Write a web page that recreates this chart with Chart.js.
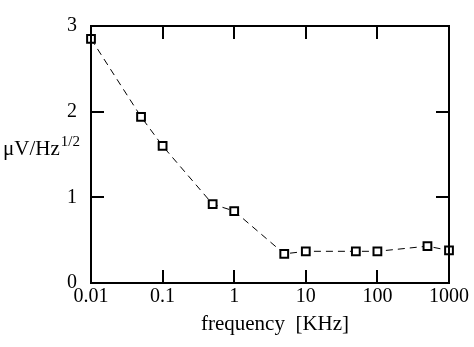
<!DOCTYPE html>
<html>
<head>
<meta charset="utf-8">
<script src="https://cdn.jsdelivr.net/npm/chart.js@4.4.1/dist/chart.umd.min.js"></script>
<style>
  body { margin: 0; background: #fff; }
  #wrap { width: 474px; height: 347px; }
</style>
</head>
<body>
<div id="wrap"><canvas id="noiseChart" width="474" height="347"></canvas></div>
<script>
// noise density vs frequency
const freqs = [0.01, 0.05, 0.1, 0.5, 1, 5, 10, 50, 100, 500, 1000];
const noise = [2.85, 1.94, 1.60, 0.92, 0.84, 0.34, 0.37, 0.37, 0.37, 0.43, 0.38];
const xTicks = [0.01, 0.1, 1, 10, 100, 1000];
const xTickLabels = ['0.01', '0.1', '1', '10', '100', '1000'];
const yTicks = [0, 1, 2, 3];

const serif = '"Liberation Serif", "DejaVu Serif", serif';

// white background
const bgPlugin = {
    id: 'bg',
    beforeDraw(chart) {
        const ctx = chart.ctx;
        ctx.save();
        ctx.fillStyle = '#fff';
        ctx.fillRect(0, 0, chart.width, chart.height);
        ctx.restore();
    }
};

// boxed frame with inward ticks on all four sides, plus axis titles
const framePlugin = {
    id: 'frame',
    afterDatasetsDraw(chart) {
        const ctx = chart.ctx;
        const a = chart.chartArea;
        const xs = chart.scales.x;
        const ys = chart.scales.y;
        const len = 13;
        ctx.save();
        ctx.strokeStyle = '#000';
        ctx.lineWidth = 2;
        ctx.strokeRect(a.left, a.top, a.right - a.left, a.bottom - a.top);

        ctx.beginPath();
        xTicks.slice(1, -1).forEach(v => {
            const px = Math.round(xs.getPixelForValue(v));
            ctx.moveTo(px, a.bottom);
            ctx.lineTo(px, a.bottom - len);
            ctx.moveTo(px, a.top);
            ctx.lineTo(px, a.top + len);
        });
        yTicks.slice(1, -1).forEach(v => {
            const py = Math.round(ys.getPixelForValue(v));
            ctx.moveTo(a.left, py);
            ctx.lineTo(a.left + len, py);
            ctx.moveTo(a.right, py);
            ctx.lineTo(a.right - len, py);
        });
        ctx.stroke();

        // y title with superscript
        ctx.fillStyle = '#000';
        ctx.textBaseline = 'alphabetic';
        ctx.textAlign = 'left';
        ctx.font = '21px ' + serif;
        const base = 'μV/Hz';
        ctx.fillText(base, 3, 155);
        const w = ctx.measureText(base).width;
        ctx.font = '15px ' + serif;
        ctx.fillText('1/2', 3 + w + 1, 146);

        // x title
        ctx.font = '21px ' + serif;
        ctx.textAlign = 'center';
        ctx.fillText('frequency  [KHz]', 275, 330);
        ctx.restore();
    }
};

new Chart(document.getElementById('noiseChart'), {
    type: 'line',
    data: {
        datasets: [{
            data: freqs.map((f, i) => ({ x: f, y: noise[i] })),
            borderColor: '#000',
            borderWidth: 1,
            borderDash: [7, 5],
            pointStyle: 'rect',
            pointRadius: 5.5,
            pointBorderWidth: 2,
            pointBorderColor: '#000',
            pointBackgroundColor: '#fff',
            tension: 0,
            clip: false
        }]
    },
    options: {
        responsive: false,
        animation: false,
        layout: { padding: { top: 10, right: 25, left: 0, bottom: 0 } },
        plugins: {
            legend: { display: false },
            tooltip: { enabled: false }
        },
        scales: {
            x: {
                type: 'logarithmic',
                min: 0.01,
                max: 1000,
                grid: { display: false, drawTicks: false },
                border: { display: false },
                afterBuildTicks(scale) {
                    scale.ticks = xTicks.map(v => ({ value: v }));
                },
                afterFit(scale) { scale.height = 64; },
                ticks: {
                    color: '#000',
                    padding: 2,
                    maxRotation: 0,
                    autoSkip: false,
                    font: { family: serif, size: 20 },
                    callback: (v) => {
                        const i = xTicks.indexOf(v);
                        return i >= 0 ? xTickLabels[i] : '';
                    }
                }
            },
            y: {
                min: 0,
                max: 3,
                grid: { display: false, drawTicks: false },
                border: { display: false },
                afterBuildTicks(scale) {
                    scale.ticks = yTicks.map(v => ({ value: v }));
                },
                afterFit(scale) { scale.width = 91; },
                ticks: {
                    color: '#000',
                    padding: 14,
                    font: { family: serif, size: 20 },
                    callback: (v) => String(v)
                }
            }
        }
    },
    plugins: [bgPlugin, framePlugin]
});
</script>
</body>
</html>
